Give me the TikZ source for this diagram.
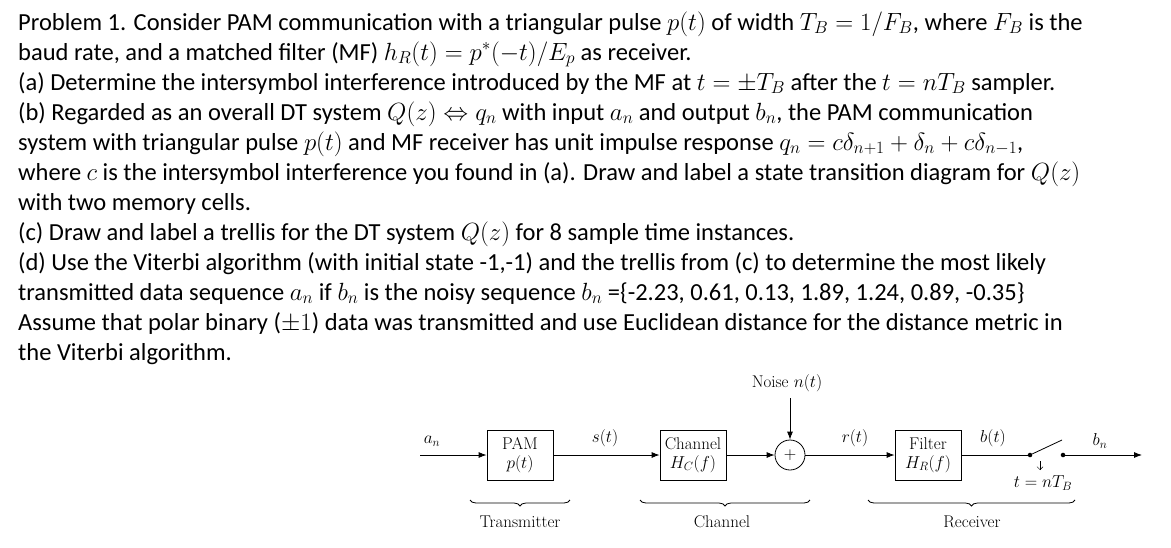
\documentclass[tikz,border=0pt]{standalone}
\usepackage{fontspec}
\setmainfont{Carlito}
\usetikzlibrary{arrows.meta,decorations.pathreplacing}
\newfontfamily\lmr{Latin Modern Roman}
\begin{document}
\begin{tikzpicture}[x=1pt,y=-1pt,
  txt/.style={anchor=base west,inner sep=0pt,font=\fontsize{24.5}{28}\selectfont},
  blk/.style={draw,thick,minimum width=66pt,minimum height=50pt,align=center,inner sep=1pt,font=\lmr\fontsize{17}{19}\selectfont},
  lab/.style={font=\lmr\fontsize{17}{19}\selectfont,inner sep=1pt},
  arr/.style={thick,-{Latex[length=8pt,width=6pt]}},
  br/.style={decorate,decoration={brace,mirror,amplitude=6pt},thick}]
\useasboundingbox (0,0) rectangle (1171,547);
\node[txt] (l1) at (18,30) {Problem 1. Consider PAM communication with a triangular pulse $p(t)$ of width $T_B=1/F_B$, where $F_B$ is the};
\node[txt] (l2) at (18,60) {baud rate, and a matched filter (MF) $h_R(t)=p^*(-t)/E_p$ as receiver.};
\node[txt] (l3) at (18,90) {(a) Determine the intersymbol interference introduced by the MF at $t=\pm T_B$ after the $t=nT_B$ sampler.};
\node[txt] (l4) at (18,120) {(b) Regarded as an overall DT system $Q(z)\Leftrightarrow q_n$ with input $a_n$ and output $b_n$, the PAM communication};
\node[txt] (l5) at (18,150) {system with triangular pulse $p(t)$ and MF receiver has unit impulse response $q_n=c\delta_{n+1}+\delta_n+c\delta_{n-1}$,};
\node[txt] (l6) at (18,180) {where $c$ is the intersymbol interference you found in (a). Draw and label a state transition diagram for $Q(z)$};
\node[txt] (l7) at (18,210) {with two memory cells.};
\node[txt] (l8) at (18,240) {(c) Draw and label a trellis for the DT system $Q(z)$ for 8 sample time instances.};
\node[txt] (l9) at (18,270) {(d) Use the Viterbi algorithm (with initial state -1,-1) and the trellis from (c) to determine the most likely};
\node[txt] (l10) at (18,300) {transmitted data sequence $a_n$ if $b_n$ is the noisy sequence $b_n$ =\{-2.23, 0.61, 0.13, 1.89, 1.24, 0.89, -0.35\}};
\node[txt] (l11) at (18,330) {Assume that polar binary ($\pm1$) data was transmitted and use Euclidean distance for the distance metric in};
\node[txt] (l12) at (18,360) {the Viterbi algorithm.};
% diagram
\coordinate (in) at (420,455);
\node[lab] (an) at (432,441) {$a_n$};
\node[blk] (pam) at (520,455) {PAM\\$p(t)$};
\node[blk] (ch) at (693,455) {Channel\\$H_C(f)$};
\node[draw,thick,circle,minimum size=30pt,inner sep=0pt,lab] (sum) at (790,455) {$+$};
\node[lab] (noise) at (787,383) {Noise $n(t)$};
\coordinate (ntop) at (790,398);
\node[blk] (flt) at (928,455) {Filter\\$H_R(f)$};
\node[fill,circle,inner sep=1.6pt] (s1) at (1030,455) {};
\node[fill,circle,inner sep=1.6pt] (s2) at (1063,455) {};
\coordinate (out) at (1142,455);
\node[lab] (st) at (605,438) {$s(t)$};
\node[lab] (rt) at (855,438) {$r(t)$};
\node[lab] (bt) at (993,438) {$b(t)$};
\node[lab] (bn) at (1100,441) {$b_n$};
\node[lab] (samp) at (1043,483) {$t=nT_B$};
\draw[arr] (in) -- (pam);
\draw[arr] (pam) -- (ch);
\draw[arr] (ch) -- (sum);
\draw[arr] (ntop) -- (sum);
\draw[arr] (sum) -- (flt);
\draw[thick] (flt) -- (s1);
\draw[thick] (s1) -- ++(32,-15);
\draw[arr] (s2) -- (out);
\draw[-{Straight Barb[length=3pt]}] (1040,461) -- (1040,470);
\draw[br] (470,500) -- (570,500);
\draw[br] (640,500) -- (810,500);
\draw[br] (868,500) -- (1075,500);
\node[lab] (tx) at (520,522) {Transmitter};
\node[lab] (chl) at (722,522) {Channel};
\node[lab] (rx) at (972,522) {Receiver};
\end{tikzpicture}
\end{document}
